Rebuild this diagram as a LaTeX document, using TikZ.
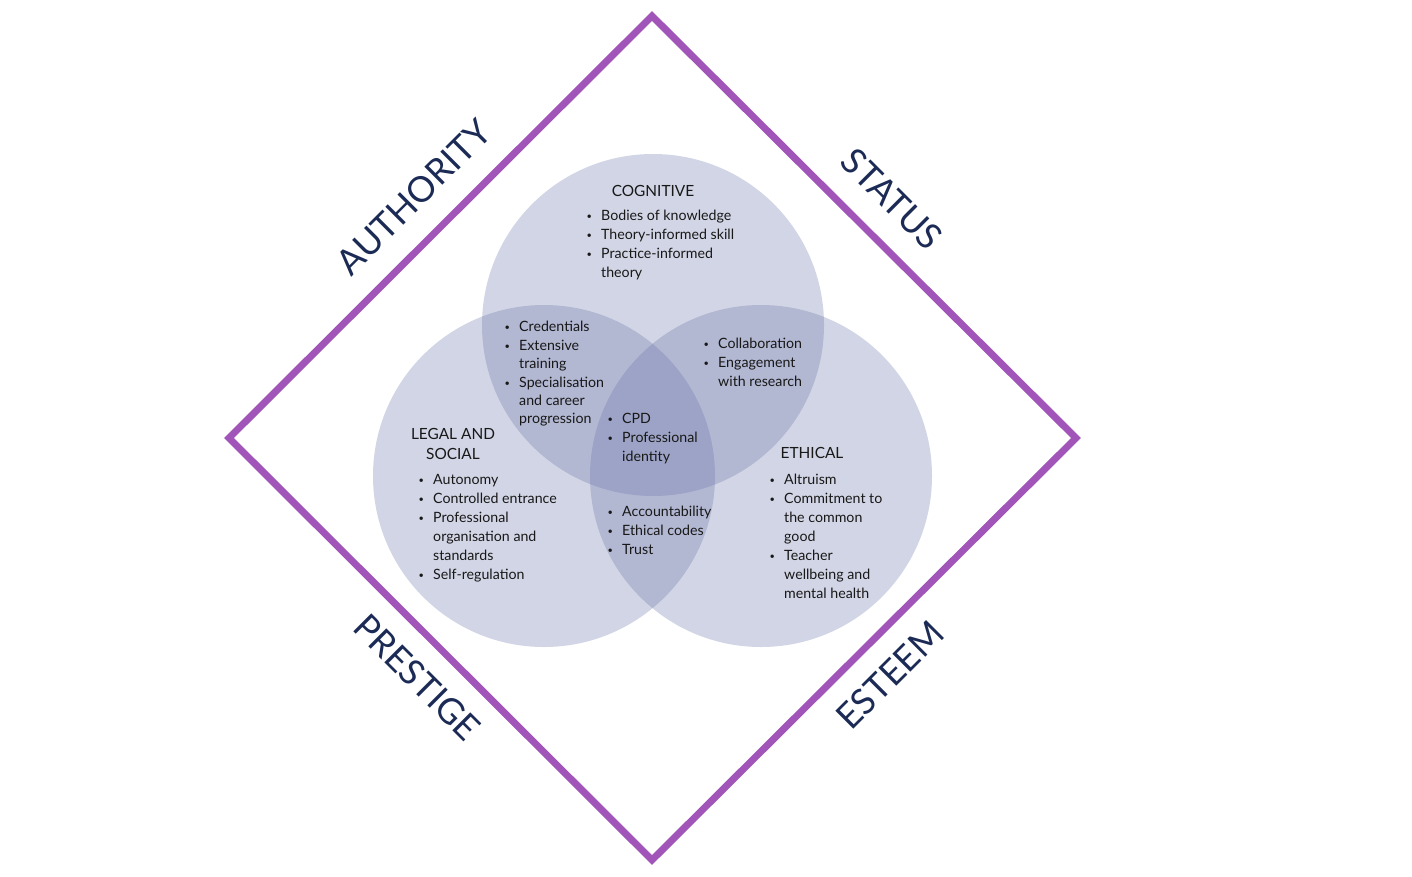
\documentclass[tikz,border=0pt]{standalone}
\usepackage{fontspec}
\setmainfont{Lato}
\usepackage{graphicx}
\definecolor{dia}{HTML}{A155B9}
\definecolor{venn}{HTML}{6A74A8}
\definecolor{navy}{HTML}{1C2B55}
\definecolor{ink}{HTML}{181818}
\newcounter{lnc}
\newcommand\bul{\llap{\makebox[24pt]{\raisebox{0.12ex}{\scalebox{0.65}{\textbullet}}}}}
\newcommand\tline[3]{\stepcounter{lnc}\node[txt] (t\arabic{lnc}) at (#1,#2) {#3};}
\newcommand\bline[3]{\stepcounter{lnc}\node[txt] (t\arabic{lnc}) at (#1,#2) {\bul#3};}
\tikzset{
  txt/.style={anchor=base west, inner sep=0pt, font=\fontsize{14.2}{18}\selectfont, text=ink},
  head/.style={anchor=base, inner sep=0pt, font=\fontsize{15.4}{18}\selectfont, text=ink},
  corner/.style={inner sep=0pt, font=\fontsize{35.5}{40}\selectfont, text=navy},
  vennc/.style={circle, minimum size=342pt, inner sep=0pt, fill=venn, fill opacity=0.3, draw=none},
}
\begin{document}
\begin{tikzpicture}[x=1pt,y=-1pt]
\useasboundingbox (0,0) rectangle (1412,876);
% diamond
\coordinate (dT) at (652,16);
\coordinate (dR) at (1076,438);
\coordinate (dB) at (652,860);
\coordinate (dL) at (229,438);
\draw[dia, line width=7pt, line join=miter] (dT) -- (dR) -- (dB) -- (dL) -- cycle;
% circles
\node[vennc] (cog) at (653,325) {};
\node[vennc] (leg) at (544,476) {};
\node[vennc] (eth) at (761,476) {};
% corner labels
\node[corner, rotate=45] (auth) at (414,197) {AUTHORITY};
\node[corner, rotate=-45] (stat) at (892,199) {STATUS};
\node[corner, rotate=-45] (pres) at (417,677) {PRESTIGE};
\node[corner, rotate=45] (este) at (890,675) {ESTEEM};
% cognitive
\node[head] (hcog) at (653,196) {COGNITIVE};
\bline{601}{220}{Bodies of knowledge}
\bline{601}{239}{Theory-informed skill}
\bline{601}{258}{Practice-informed}
\tline{601}{277}{theory}
% cognitive & legal
\bline{519}{331}{Credentials}
\bline{519}{350}{Extensive}
\tline{519}{368}{training}
\bline{519}{387}{Specialisation}
\tline{519}{405}{and career}
\tline{519}{423}{progression}
% cognitive & ethical
\bline{718}{348}{Collaboration}
\bline{718}{367}{Engagement}
\tline{718}{386}{with research}
% centre
\bline{622}{423}{CPD}
\bline{622}{442}{Professional}
\tline{622}{461}{identity}
% legal and social
\node[head] (hleg1) at (453,439) {LEGAL AND};
\node[head] (hleg2) at (453,459) {SOCIAL};
\bline{433}{484}{Autonomy}
\bline{433}{503}{Controlled entrance}
\bline{433}{522}{Professional}
\tline{433}{541}{organisation and}
\tline{433}{560}{standards}
\bline{433}{579}{Self-regulation}
% legal & ethical
\bline{622}{516}{Accountability}
\bline{622}{535}{Ethical codes}
\bline{622}{554}{Trust}
% ethical
\node[head] (heth) at (812,458) {ETHICAL};
\bline{784}{484}{Altruism}
\bline{784}{503}{Commitment to}
\tline{784}{522}{the common}
\tline{784}{541}{good}
\bline{784}{560}{Teacher}
\tline{784}{579}{wellbeing and}
\tline{784}{598}{mental health}
\end{tikzpicture}
\end{document}
